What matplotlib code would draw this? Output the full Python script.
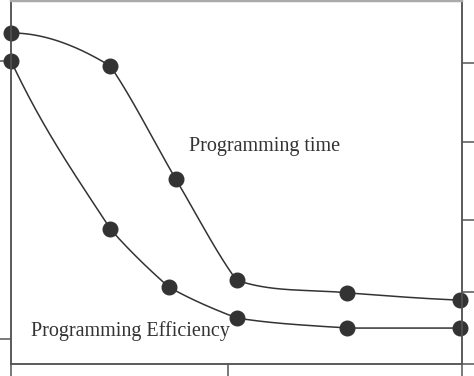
import matplotlib.pyplot as plt
import numpy as np

# values (x: 0-10, y: 0-100)
x_time = [0, 2.2, 3.65, 5.0, 7.45, 9.95]
y_time = [91.2, 82.1, 51.0, 23.1, 19.6, 17.6]
x_eff = [0, 2.2, 3.5, 5.0, 7.45, 9.95]
y_eff = [83.5, 37.2, 21.2, 12.7, 9.9, 9.9]

left_ticks = [6.9, 83.5]
right_ticks = [0, 19.8, 39.7, 61.2, 82.9]
bottom_ticks = [0, 4.81, 10]

label_time = "Programming time"
label_eff = "Programming Efficiency"

ink = "#333333"
spine = "#555555"


def smooth(x, y, w=0.8, n=400):
	"""hermite curve through the points, tangents leaning to each own segment
	(the small kink sits under the marker). only used to draw the line"""
	x = np.asarray(x, float)
	y = np.asarray(y, float)
	h = np.diff(x)
	d = np.diff(y) / h
	k = len(h)
	m0 = np.zeros(k)  # slope at start of each segment
	m1 = np.zeros(k)  # slope at end of each segment
	for i in range(k):
		# start
		if i == 0:
			s = ((2 * h[0] + h[1]) * d[0] - h[0] * d[1]) / (h[0] + h[1])
		else:
			s = w * d[i] + (1 - w) * d[i - 1]
		m0[i] = s
		# end
		if i == k - 1:
			s = ((2 * h[-1] + h[-2]) * d[-1] - h[-1] * d[-2]) / (h[-1] + h[-2])
		else:
			s = w * d[i] + (1 - w) * d[i + 1]
		m1[i] = s
		for arr in (m0, m1):
			if arr[i] * d[i] <= 0:
				arr[i] = 0
			else:
				arr[i] = np.sign(d[i]) * min(abs(arr[i]), 3 * abs(d[i]))
	xs = np.linspace(x[0], x[-1], n)
	idx = np.clip(np.searchsorted(x, xs) - 1, 0, k - 1)
	t = (xs - x[idx]) / h[idx]
	h00 = 2 * t**3 - 3 * t**2 + 1
	h10 = t**3 - 2 * t**2 + t
	h01 = -2 * t**3 + 3 * t**2
	h11 = t**3 - t**2
	ys = h00 * y[idx] + h10 * h[idx] * m0[idx] + h01 * y[idx + 1] + h11 * h[idx] * m1[idx]
	return xs, ys


plt.rcParams['font.family'] = ['Liberation Serif', 'DejaVu Serif']

fig = plt.figure(figsize=(4.74, 3.76), dpi=100)
ax = fig.add_axes([11 / 474, 12 / 376, 451 / 474, 363 / 376])

for xv, yv in [(x_time, y_time), (x_eff, y_eff)]:
	xs, ys = smooth(xv, yv)
	ax.plot(xs, ys, color=ink, lw=1.1, zorder=2)
	ax.plot(xv, yv, 'o', color=ink, ms=10.5, zorder=3, clip_on=False)

ax.set_xlim(0, 10)
ax.set_ylim(0, 100)

ax.text(3.95, 60, label_time, fontsize=14.5, color=ink, va='center')
ax.text(0.45, 9.0, label_eff, fontsize=14.5, color=ink, va='center')

ax.set_xticks(bottom_ticks)
ax.set_yticks(left_ticks)
ax.set_xticklabels([])
ax.set_yticklabels([])
ax.tick_params(direction='out', length=8.5, width=1.1, color=spine)

ax2 = ax.twinx()
ax2.set_ylim(0, 100)
ax2.set_yticks(right_ticks)
ax2.set_yticklabels([])
ax2.tick_params(direction='out', length=8.5, width=1.1, color=spine)

for a in (ax, ax2):
	for s in ['left', 'right', 'bottom']:
		a.spines[s].set_color(spine)
		a.spines[s].set_linewidth(1.1)
	a.spines['top'].set_color('#aaaaaa')
	a.spines['top'].set_linewidth(1.6)

plt.savefig("out.png", dpi=100)
plt.close()
